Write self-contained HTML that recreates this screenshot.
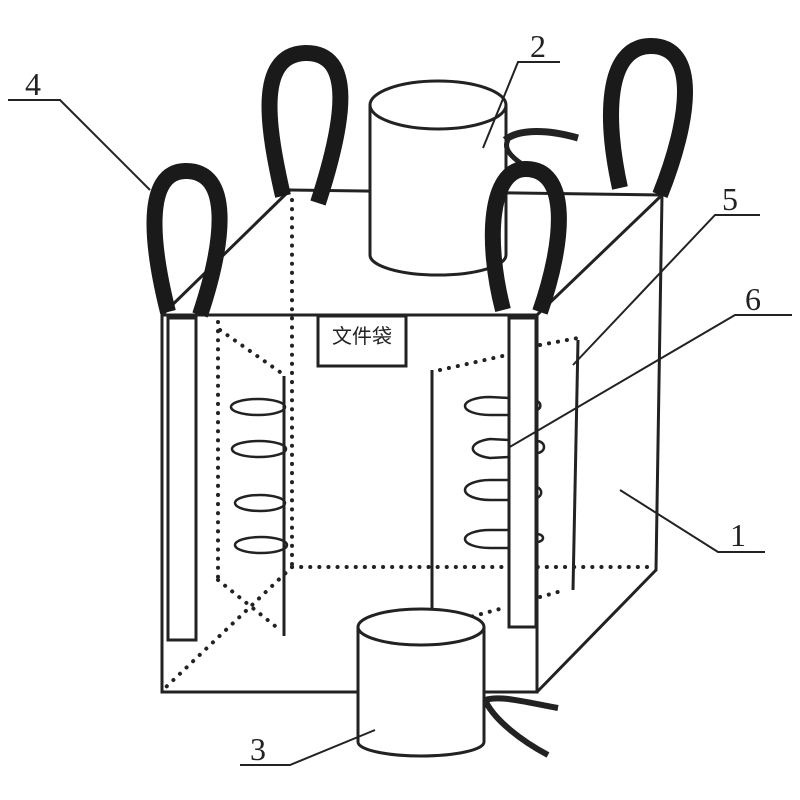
<!DOCTYPE html>
<html><head><meta charset="utf-8"><style>body{margin:0;background:#fff}svg{display:block}</style></head><body>
<svg width="800" height="800" viewBox="0 0 800 800" xmlns="http://www.w3.org/2000/svg" font-family="Liberation Serif, serif">
<rect width="800" height="800" fill="#fff"/>
<g stroke="#222" stroke-width="3" fill="none" stroke-linecap="round">
<line x1="162" y1="315" x2="290" y2="190"/>
<line x1="290" y1="190" x2="662" y2="195"/>
<line x1="537" y1="315" x2="662" y2="195"/>
<line x1="662" y1="195" x2="656" y2="570"/>
<line x1="656" y1="570" x2="537" y2="692"/>
<rect x="162" y="315" width="375" height="377"/>
</g>
<g stroke="#222" stroke-width="3" fill="#fff">
<path d="M370 105 L370 255 A68 20 0 0 0 506 255 L506 105"/>
<ellipse cx="438" cy="105" rx="68" ry="24"/>
</g>
<path d="M505 140 C520 128 550 130 578 138" stroke="#222" stroke-width="7" fill="none"/>
<path d="M508 140 C502 150 515 160 528 168" stroke="#222" stroke-width="5" fill="none"/>
<g stroke="#222" stroke-width="4" fill="none" stroke-dasharray="0.1 9" stroke-linecap="round">
<line x1="292" y1="200" x2="292" y2="566"/>
<line x1="292" y1="567" x2="656" y2="567"/>
<line x1="292" y1="567" x2="165" y2="688"/>
<line x1="218" y1="322" x2="218" y2="578"/>
<line x1="220" y1="330" x2="280" y2="372"/>
<line x1="218" y1="580" x2="280" y2="630"/>
<line x1="440" y1="370" x2="507" y2="355"/>
<line x1="540" y1="345" x2="578" y2="338"/>
<line x1="437" y1="626" x2="507" y2="607"/>
<line x1="540" y1="597" x2="565" y2="590"/>
</g>
<g stroke="#222" stroke-width="3" fill="none">
<line x1="284" y1="376" x2="284" y2="636"/>
<line x1="432" y1="370" x2="432" y2="626"/>
<line x1="578" y1="340" x2="573" y2="590"/>
<rect x="168" y="318" width="28" height="322" fill="#fff"/>
<rect x="509" y="318" width="27" height="309" fill="#fff"/>
<rect x="318" y="316" width="88" height="50" fill="#fff"/>
</g>
<text x="362" y="343" font-family="Liberation Sans, Noto Sans CJK SC, sans-serif" font-size="20" text-anchor="middle" fill="#222">文件袋</text>
<g stroke="#222" stroke-width="2.5" fill="none">
<ellipse cx="258" cy="407" rx="27" ry="8"/>
<ellipse cx="259" cy="449" rx="27" ry="8"/>
<ellipse cx="260" cy="503" rx="25" ry="8"/>
<ellipse cx="261" cy="545" rx="26" ry="8"/>
<path d="M509 398 L490 397 A25 9 0 0 0 490 415 L509 415"/>
<path d="M509 440 L490 439 A25 10 0 0 0 490 458 L509 457"/>
<path d="M509 480 L490 480 A25 10 0 0 0 490 500 L509 500"/>
<path d="M509 530 L490 530 A25 9 0 0 0 490 548 L509 548"/>
<path d="M537 401 A6 5 0 0 1 537 410"/>
<path d="M537 441 A7 6 0 0 1 537 453"/>
<path d="M537 487 A7 6 0 0 1 537 498"/>
<path d="M537 534 A6 4 0 0 1 537 542"/>
</g>
<g stroke="#1a1a1a" stroke-width="16" fill="none" stroke-linecap="butt">
<path d="M283 196 C268 130 255 55 305 53 C355 52 345 120 318 203"/>
<path d="M620 188 C605 120 605 47 650 46 C700 45 690 120 660 195"/>
<path d="M168 312 C150 240 145 172 185 171 C232 170 225 240 200 315"/>
<path d="M503 310 C485 240 490 170 525 169 C570 168 565 240 540 312"/>
</g>
<g stroke="#222" stroke-width="3" fill="#fff">
<path d="M358 627 L358 742 A63 14 0 0 0 484 742 L484 627"/>
<ellipse cx="421" cy="627" rx="63" ry="18"/>
</g>
<path d="M485 700 C500 695 525 702 558 708" stroke="#222" stroke-width="6" fill="none"/>
<path d="M486 702 C495 720 520 740 548 755" stroke="#222" stroke-width="6" fill="none"/>
<g stroke="#222" stroke-width="2" fill="none">
<polyline points="560,62 518,62 483,148"/>
<polyline points="8,100 60,100 150,190"/>
<polyline points="760,215 715,215 573,365"/>
<polyline points="792,315 735,315 508,448"/>
<polyline points="765,552 718,552 620,490"/>
<polyline points="240,765 290,765 375,730"/>
</g>
<g font-size="32" fill="#222">
<text x="530" y="57">2</text>
<text x="25" y="95">4</text>
<text x="722" y="210">5</text>
<text x="745" y="310">6</text>
<text x="730" y="546">1</text>
<text x="250" y="760">3</text>
</g>
</svg>
</body></html>
